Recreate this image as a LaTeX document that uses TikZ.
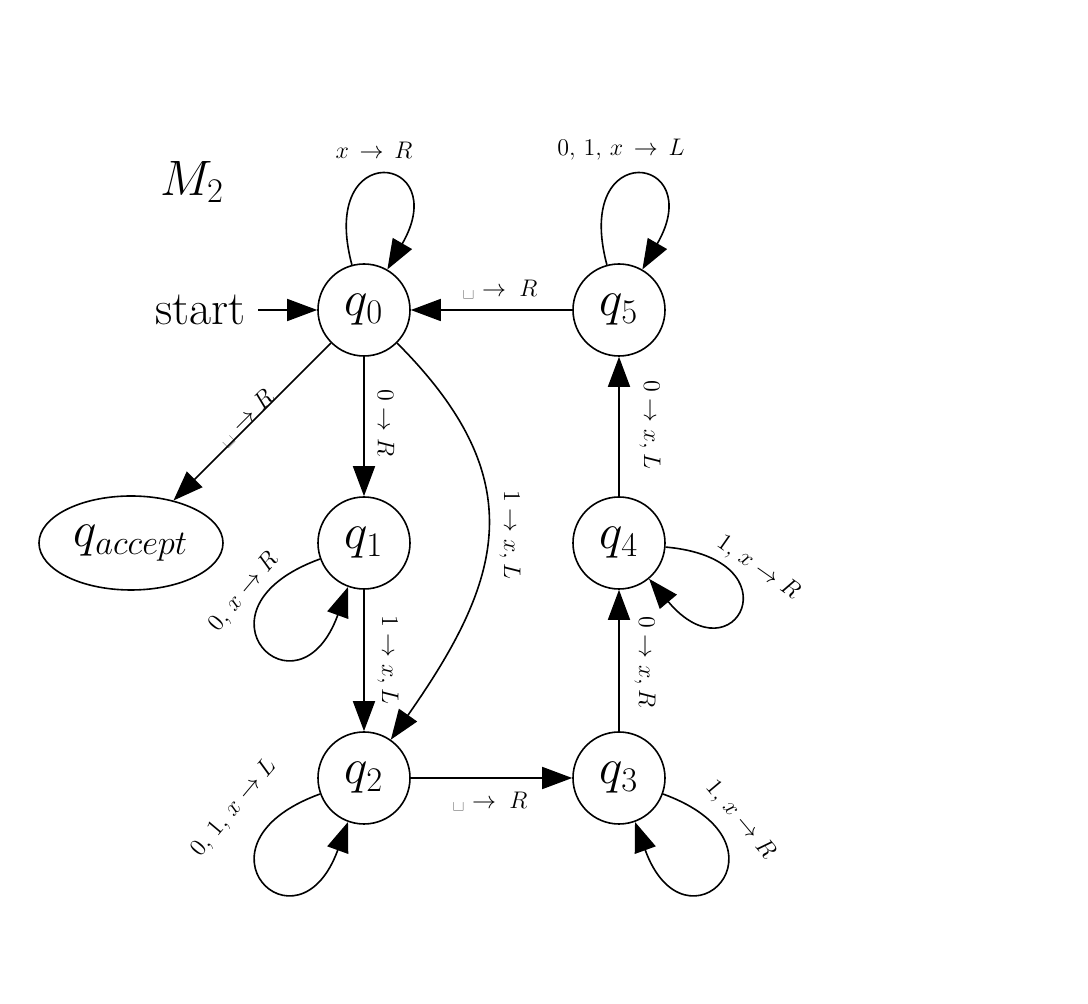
\documentclass[tikz,border=0pt]{standalone}
\usetikzlibrary{arrows.meta,shapes.geometric}
\begin{document}
\begin{tikzpicture}[x=0.5pt,y=-0.5pt,
  st/.style={circle,draw,thick,minimum size=46pt,inner sep=0pt,font=\fontsize{25}{27}\selectfont},
  tr/.style={draw,thick,-{Triangle[length=15pt,width=11pt]}},
  lb/.style={font=\fontsize{12}{14}\selectfont,inner sep=1pt}]
\useasboundingbox (0,0) rectangle (1088,1004);
\node[st] (q0) at (364,310) {$q_0$};
\node[st] (q5) at (619,310) {$q_5$};
\node[st] (q1) at (364,543) {$q_1$};
\node[st] (q4) at (619,543) {$q_4$};
\node[st] (q2) at (364,778) {$q_2$};
\node[st] (q3) at (619,778) {$q_3$};
\node[ellipse,draw,thick,minimum width=92pt,minimum height=47pt,inner sep=0pt,font=\fontsize{25}{27}\selectfont] (qa) at (131,543) {$q_{accept}$};
\node[font=\fontsize{24}{26}\selectfont,anchor=east,inner sep=0pt] (start) at (246,310) {start};
\node[font=\fontsize{25}{27}\selectfont] (m2) at (192,182) {$M_2$};
\coordinate (s0) at (258,310);
\draw[tr] (s0) -- (q0);
% loops
\draw[tr] (q0) to[out=105,in=60,looseness=9.5] (q0);
\node[lb] (l00) at (374,150) {$x\,\to\,R$};
\draw[tr] (q5) to[out=105,in=60,looseness=9.5] (q5);
\node[lb] (l55) at (621,150) {$0,\,1,\,x\,\to\,L$};
\draw[tr] (q1) to[out=200,in=-110,looseness=9.5] (q1);
\node[lb,rotate=50] (l11) at (244,592) {$0,\,x\to R$};
\draw[tr] (q2) to[out=200,in=-110,looseness=9.5] (q2);
\node[lb,rotate=50] (l22) at (234,808) {$0,\,1,\,x\to L$};
\draw[tr] (q4) to[out=-5,in=-50,looseness=9.5] (q4);
\node[lb,rotate=-35] (l44) at (758,568) {$1,\,x\to R$};
\draw[tr] (q3) to[out=-20,in=-70,looseness=9.5] (q3);
\node[lb,rotate=-50] (l33) at (740,820) {$1,\,x\to R$};
% straight
\draw[tr] (q5) -- (q0);
\node[lb] (l50) at (500,290) {\textvisiblespace\ $\to\;R$};
\draw[tr] (q0) -- (qa);
\node[lb,rotate=45] (l0a) at (246,418) {\textvisiblespace\ $\to R$};
\draw[tr] (q0) -- (q1);
\node[lb,rotate=-90] (l01) at (386,423) {$0\to R$};
\draw[tr] (q0) to[out=-45,in=55,looseness=1.25] (q2);
\node[lb,rotate=-90] (l02) at (510,535) {$1\to x,L$};
\draw[tr] (q1) -- (q2);
\node[lb,rotate=-90] (l12) at (388,660) {$1\to x,L$};
\draw[tr] (q2) -- (q3);
\node[lb] (l23) at (490,802) {\textvisiblespace\ $\to\;R$};
\draw[tr] (q3) -- (q4);
\node[lb,rotate=-90] (l34) at (645,662) {$0\to x,R$};
\draw[tr] (q4) -- (q5);
\node[lb,rotate=-90] (l45) at (650,425) {$0\to x,L$};
\end{tikzpicture}
\end{document}
